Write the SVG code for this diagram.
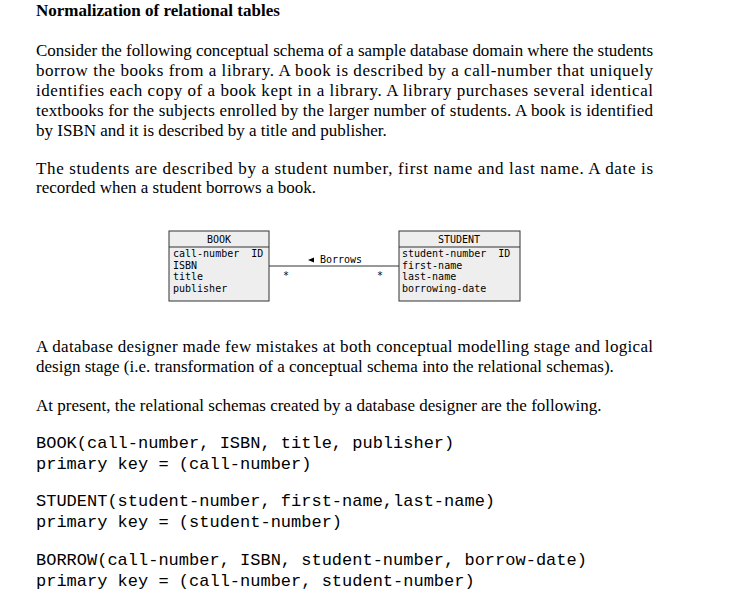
<svg xmlns="http://www.w3.org/2000/svg" width="730" height="602" viewBox="0 0 730 602">
<style>
.t{font-family:"Liberation Serif",serif;font-size:17px;fill:#000}
.m{font-family:"Liberation Mono",monospace;font-size:17px;fill:#000}
.d{font-family:"DejaVu Sans Mono",monospace;font-size:10px;fill:#000;white-space:pre}
.box{fill:#eeeeee;stroke:#333;stroke-width:1}
</style>
<rect width="730" height="602" fill="#fff"/>
<text class="t" x="36" y="16" font-weight="bold">Normalization of relational tables</text>
<text class="t" x="36" y="56" textLength="617" lengthAdjust="spacing">Consider the following conceptual schema of a sample database domain where the students</text>
<text class="t" x="36" y="76" textLength="617" lengthAdjust="spacing">borrow the books from a library. A book is described by a call-number that uniquely</text>
<text class="t" x="36" y="96" textLength="617" lengthAdjust="spacing">identifies each copy of a book kept in a library. A library purchases several identical</text>
<text class="t" x="36" y="116" textLength="617" lengthAdjust="spacing">textbooks for the subjects enrolled by the larger number of students. A book is identified</text>
<text class="t" x="36" y="136">by ISBN and it is described by a title and publisher.</text>
<text class="t" x="36" y="174" textLength="617" lengthAdjust="spacing">The students are described by a student number, first name and last name. A date is</text>
<text class="t" x="36" y="193">recorded when a student borrows a book.</text>
<g id="connectors">
<line x1="269" y1="266" x2="399" y2="266" stroke="#333"/>
<text class="d" x="283" y="279" font-size="12">*</text>
<text class="d" x="377" y="279" font-size="12">*</text>
<polygon points="308,260 314,257.5 314,262.5" fill="#000"/>
<text class="d" x="320" y="263">Borrows</text>
</g>
<g id="book">
<rect class="box" x="169" y="231" width="100" height="70"/>
<line x1="169" y1="247" x2="269" y2="247" stroke="#333"/>
<text class="d" x="219" y="243" text-anchor="middle">BOOK</text>
<text class="d" x="173" y="257" xml:space="preserve">call-number  ID</text>
<text class="d" x="173" y="269">ISBN</text>
<text class="d" x="173" y="280">title</text>
<text class="d" x="173" y="292">publisher</text>
</g>
<g id="student">
<rect class="box" x="399" y="231" width="121" height="70"/>
<line x1="399" y1="247" x2="520" y2="247" stroke="#333"/>
<text class="d" x="459" y="243" text-anchor="middle">STUDENT</text>
<text class="d" x="402" y="257" xml:space="preserve">student-number  ID</text>
<text class="d" x="402" y="269">first-name</text>
<text class="d" x="402" y="280">last-name</text>
<text class="d" x="402" y="292">borrowing-date</text>
</g>
<text class="t" x="36" y="352" textLength="617" lengthAdjust="spacing">A database designer made few mistakes at both conceptual modelling stage and logical</text>
<text class="t" x="36" y="372">design stage (i.e. transformation of a conceptual schema into the relational schemas).</text>
<text class="t" x="36" y="411">At present, the relational schemas created by a database designer are the following.</text>
<text class="m" x="36" y="448" xml:space="preserve">BOOK(call-number, ISBN, title, publisher)</text>
<text class="m" x="36" y="469" xml:space="preserve">primary key = (call-number)</text>
<text class="m" x="36" y="506" xml:space="preserve">STUDENT(student-number, first-name,last-name)</text>
<text class="m" x="36" y="527" xml:space="preserve">primary key = (student-number)</text>
<text class="m" x="36" y="565" xml:space="preserve">BORROW(call-number, ISBN, student-number, borrow-date)</text>
<text class="m" x="36" y="586" xml:space="preserve">primary key = (call-number, student-number)</text>
</svg>
